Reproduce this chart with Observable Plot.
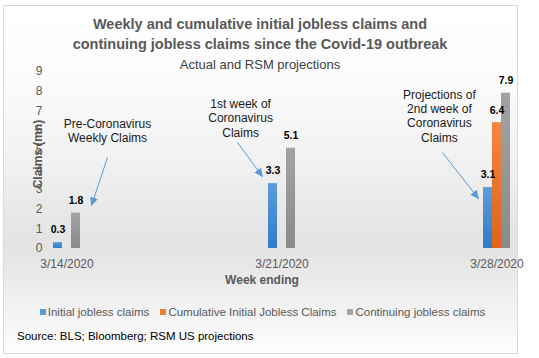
<!DOCTYPE html>
<html>
<head>
<meta charset="utf-8">
<script src="https://cdn.jsdelivr.net/npm/d3@7"></script>
<script src="https://cdn.jsdelivr.net/npm/@observablehq/plot@0.6"></script>
<style>
html, body { margin: 0; padding: 0; background: #fff; }
#wrap { position: relative; width: 539px; height: 358px; overflow: hidden; font-family: "Liberation Sans", Arial, sans-serif; }
#frame { position: absolute; left: 3px; top: 5px; width: 513px; height: 347px; border: 1px solid #d9d9d9;
  background: linear-gradient(180deg, #ffffff 0%, #fbfbfb 22%, #f1f1f1 45%, #e6e6e6 62%, #e3e3e3 70%, #ececec 80%, #f6f6f6 92%, #fdfdfd 100%); }
#chart { position: absolute; left: 0; top: 0; }
#title { position: absolute; left: 0; width: 520px; top: 14px; text-align: center; font-weight: bold; font-size: 14.5px; line-height: 20px; color: #595959; }
#subtitle { position: absolute; left: 0; width: 520px; top: 57px; text-align: center; font-size: 13px; line-height: 15px; color: #404040; }
#ylabel { position: absolute; left: -12px; top: 147px; width: 100px; height: 14px; line-height: 14px; text-align: center; font-weight: bold; font-size: 12px; color: #595959; transform: rotate(-90deg); }
#xlabel { position: absolute; left: 162px; width: 200px; top: 273px; text-align: center; font-weight: bold; font-size: 12px; line-height: 14px; color: #595959; }
#legend { position: absolute; left: 0; width: 525px; top: 305px; display: flex; justify-content: center; font-size: 11.5px; line-height: 14px; color: #595959; }
#legend .item { display: flex; align-items: center; margin: 0 5.5px; }
#legend .sw { width: 6px; height: 6px; margin-right: 2px; }
#source { position: absolute; left: 17px; top: 329px; font-size: 11.5px; line-height: 14px; color: #000; }
</style>
</head>
<body>
<div id="wrap">
  <div id="frame"></div>
  <div id="chart"></div>
  <div id="title">Weekly and cumulative initial jobless claims and<br>continuing jobless claims since the Covid-19 outbreak</div>
  <div id="subtitle">Actual and RSM projections</div>
  <div id="ylabel">Claims (mn)</div>
  <div id="xlabel">Week ending</div>
  <div id="legend"></div>
  <div id="source">Source: BLS; Bloomberg; RSM US projections</div>
</div>
<script>
// ---- data ----
const dates = ["3/14/2020", "3/21/2020", "3/28/2020"];
const seriesNames = ["Initial jobless claims", "Cumulative Initial Jobless Claims", "Continuing jobless claims"];
const initialClaims = [0.3, 3.3, 3.1];
const cumulativeClaims = [null, null, 6.4];
const continuingClaims = [1.8, 5.1, 7.9];
const yTicks = [0, 1, 2, 3, 4, 5, 6, 7, 8, 9];

// annotations (text and arrow anchor points, in data units: bar-slot within week, claims)
const annotationTexts = ["Pre-Coronavirus\nWeekly Claims", "1st week of\nCoronavirus\nClaims", "Projections of\n2nd week of\nCoronavirus\nClaims"];
const annotationSlot = [6.0, -3.1, -4.9];
const annotationClaims = [6.02, 6.66, 6.76];
const arrowStartSlot = [6.0, -3.44, -4.56];
const arrowStartClaims = [4.63, 5.39, 4.88];
const arrowEndSlot = [4.22, -0.67, -0.56];
const arrowEndClaims = [2.19, 3.66, 2.54];

// ---- styles ----
const seriesColors = ["#5B9BD5", "#ED7D31", "#A5A5A5"];
const gradientStops = [["#5d9dd8", "#2f7bcb"], ["#f08843", "#de6418"], ["#a3a3a3", "#8a8a8a"]];
const gradientIds = ["gBlue", "gOrange", "gGray"];

// ---- tables ----
const seriesValues = [initialClaims, cumulativeClaims, continuingClaims];
const rows = [];
dates.forEach((d, i) => seriesValues.forEach((vals, j) => {
  if (vals[i] != null) rows.push({date: d, series: seriesNames[j], slot: j, value: vals[i]});
}));
const annotations = annotationTexts.map((t, i) => ({date: dates[i], text: t, x: annotationSlot[i], y: annotationClaims[i]}));
const arrows = dates.map((d, i) => ({date: d, x1: arrowStartSlot[i], y1: arrowStartClaims[i], x2: arrowEndSlot[i], y2: arrowEndClaims[i]}));

const chart = Plot.plot({
  width: 539,
  height: 290,
  marginLeft: 53,
  marginRight: 29,
  marginTop: 71,
  marginBottom: 42,
  style: {fontFamily: "'Liberation Sans', Arial, sans-serif", fontSize: "12px", color: "#595959", background: "transparent", overflow: "visible"},
  fx: {domain: dates, paddingInner: 0.8744, paddingOuter: 0, round: false, axis: "bottom", tickSize: 0, tickPadding: 11, label: null},
  x: {domain: [0, 3], axis: null},
  y: {domain: [0, 9], ticks: yTicks, tickSize: 0, tickPadding: 11, label: null},
  color: {type: "ordinal", domain: seriesNames, range: gradientIds.map(id => `url(#${id})`)},
  marks: [
    Plot.rect(rows, {fx: "date", x1: "slot", x2: d => d.slot + 1, y1: 0, y2: "value", fill: "series"}),
    Plot.text(rows, {fx: "date", x: d => d.slot + 0.5, y: "value", text: d => d.value.toFixed(1), dy: -12.5, fontWeight: "bold", fontSize: 10.5, fill: "#000"}),
    Plot.text(annotations, {fx: "date", x: "x", y: "y", text: "text", lineHeight: 1.2, fontSize: 12, fill: "#1a1a1a"}),
    Plot.link(arrows, {fx: "date", x1: "x1", y1: "y1", x2: "x2", y2: "y2", stroke: seriesColors[0], strokeWidth: 1})
  ]
});

const svg = d3.select(chart);
const defs = svg.insert("defs", ":first-child");
gradientIds.forEach((id, i) => {
  const g = defs.append("linearGradient").attr("id", id).attr("x1", 0).attr("y1", 0).attr("x2", 0).attr("y2", 1);
  g.append("stop").attr("offset", "0%").attr("stop-color", gradientStops[i][0]);
  g.append("stop").attr("offset", "100%").attr("stop-color", gradientStops[i][1]);
});
defs.append("marker").attr("id", "annTri").attr("viewBox", "0 -5 10 10").attr("refX", 9).attr("refY", 0)
  .attr("markerUnits", "userSpaceOnUse").attr("markerWidth", 9).attr("markerHeight", 9).attr("orient", "auto")
  .append("path").attr("d", "M0,-4.5L10,0L0,4.5Z").attr("fill", seriesColors[0]);
svg.selectAll('g[aria-label="link"] path').attr("marker-end", "url(#annTri)");

document.getElementById("chart").appendChild(chart);

const legend = d3.select("#legend");
seriesNames.forEach((name, i) => {
  const item = legend.append("div").attr("class", "item");
  item.append("div").attr("class", "sw").style("background", seriesColors[i]);
  item.append("span").text(name);
});
</script>
</body>
</html>
